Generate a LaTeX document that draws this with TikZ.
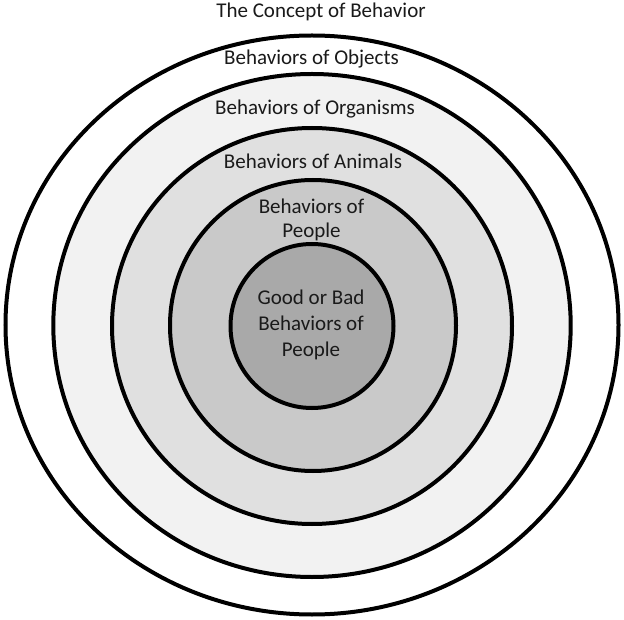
\documentclass[tikz,border=0pt]{standalone}
\usepackage{fontspec}
\setmainfont{Carlito}
\definecolor{ringA}{HTML}{F2F2F2}
\definecolor{ringB}{HTML}{E0E0E0}
\definecolor{ringC}{HTML}{C9C9C9}
\definecolor{ringD}{HTML}{A9A9A9}
\definecolor{txt}{HTML}{1A1A1A}
\begin{document}
\begin{tikzpicture}[x=1pt,y=-1pt,
  ring/.style={draw=black,line width=4pt},
  lbl/.style={anchor=base,inner sep=0pt,font=\fontsize{21}{25.5}\selectfont,text=txt,align=center}]
\useasboundingbox (0,0) rectangle (624,620);
\fill[white] (0,0) rectangle (624,620);
\draw[ring,fill=white] (312,325) ellipse [x radius=306.5,y radius=289.5];
\draw[ring,fill=ringA] (312,325.5) ellipse [x radius=258.7,y radius=251.5];
\draw[ring,fill=ringB] (312,326) ellipse [x radius=200,y radius=198];
\draw[ring,fill=ringC] (313,325.5) ellipse [x radius=143,y radius=145.5];
\draw[ring,fill=ringD] (312,326) ellipse [x radius=81.5,y radius=82];
\node[lbl] (concept) at (321,17.3) {The Concept of Behavior};
\node[lbl] (objects) at (311.5,65) {Behaviors of Objects};
\node[lbl] (organisms) at (315,114.3) {Behaviors of Organisms};
\node[lbl] (animals) at (313,168.3) {Behaviors of Animals};
\node[lbl,font=\fontsize{21}{24.4}\selectfont] (people) at (311.5,237.7) {Behaviors of\\People};
\node[lbl,font=\fontsize{21}{26.2}\selectfont] (goodbad) at (311,356.7) {Good or Bad\\Behaviors of\\People};
\end{tikzpicture}
\end{document}
